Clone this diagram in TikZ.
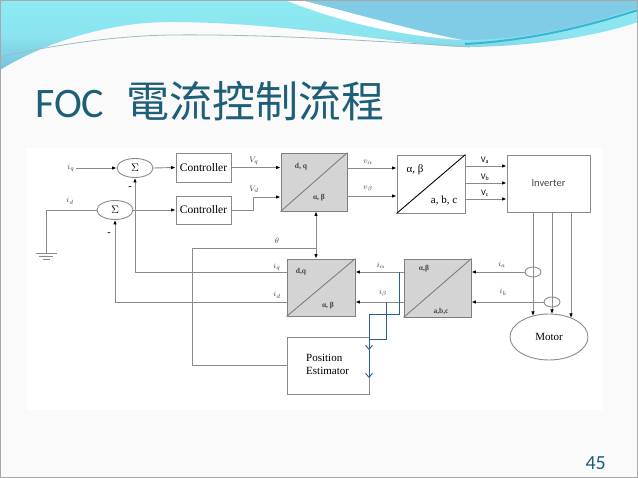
\documentclass[tikz,border=0pt]{standalone}
\usepackage{fontspec}
\setmainfont{Liberation Serif}
\newfontfamily\calfont{Carlito}
\newfontfamily\cjkfont{Noto Sans CJK TC}
\usetikzlibrary{arrows.meta,shapes.geometric,calc}
\definecolor{slidebg}{HTML}{FAFAFA}
\definecolor{framegray}{HTML}{A8A8A8}
\definecolor{titlec}{HTML}{1D5E78}
\definecolor{cyanA}{HTML}{8EEAF3}
\definecolor{cyanB}{HTML}{78C2DD}
\definecolor{skyB}{HTML}{80CCE6}
\definecolor{darkcy}{HTML}{3AB5D5}
\definecolor{thinln}{HTML}{9DBBC4}
\definecolor{lgray}{HTML}{8A8A8A}
\definecolor{gfill}{HTML}{D4D4D4}
\definecolor{bgray}{HTML}{7F7F7F}
\definecolor{labgray}{HTML}{444444}
\definecolor{blueln}{HTML}{2A5C9A}
\begin{document}
\begin{tikzpicture}[x=1pt,y=-1pt,
  line/.style={draw=lgray,line width=0.9pt},
  arr/.style={line,-{Latex[length=4.5pt,width=3.6pt,black]}},
  sig/.style={ellipse,draw=lgray,line width=0.9pt,inner sep=0pt,minimum width=36pt,minimum height=19pt,font=\fontsize{11}{12}\selectfont},
  box/.style={rectangle,draw=lgray,line width=0.9pt,inner sep=0pt,font=\fontsize{11.5}{13}\selectfont},
  gblock/.style={rectangle,draw=bgray,fill=gfill,line width=0.9pt,inner sep=0pt},
  wblock/.style={rectangle,draw=lgray,fill=white,line width=0.9pt,inner sep=0pt},
  blab/.style={inner sep=0pt,text=labgray,font=\bfseries\fontsize{7.5}{9}\selectfont},
  wlab/.style={inner sep=0pt,font=\fontsize{11}{13}\selectfont},
  slab/.style={inner sep=1pt,text=labgray,font=\fontsize{8.5}{9}\selectfont},
  vlab/.style={inner sep=0pt,font=\calfont\fontsize{8.5}{9}\selectfont},
  bline/.style={draw=blueln,line width=0.9pt},
  barb/.style={bline,-{Straight Barb[length=4pt,width=7pt]}}
]
\useasboundingbox (0,0) rectangle (638,478);
\fill[slidebg] (0,0) rectangle (638,478);
% waves
\shade[top color=cyanA,bottom color=cyanB,middle color=cyanA!85!cyanB]
  (0,0) -- (638,0) -- (638,22) .. controls (600,35) and (540,46) .. (470,47)
  .. controls (450,47) and (430,45) .. (390,40)
  .. controls (330,33) and (250,22) .. (170,22)
  .. controls (110,22) and (45,42) .. (0,70) -- cycle;
\fill[skyB] (300,0) .. controls (350,12) and (410,30) .. (462,40)
  .. controls (540,40) and (600,20) .. (638,8) -- (638,0) -- cycle;
\fill[white] (285,0) -- (300,0) .. controls (350,12) and (410,30) .. (462,40)
  .. controls (400,36) and (340,22) .. (285,0) -- cycle;
\draw[darkcy,line width=2pt] (465,44) .. controls (540,40) and (600,22) .. (638,10);
\draw[thinln,line width=0.8pt] (0,57) .. controls (50,46) and (110,36) .. (170,35)
  .. controls (260,34) and (360,40) .. (470,47);
\draw[framegray,line width=1pt] (0.5,0.5) rectangle (637.5,477.5);
% title
\node[anchor=base west,text=titlec,inner sep=0pt] (title) at (35,118)
  {{\calfont\fontsize{42}{50}\selectfont FOC}\hspace{22pt}{\cjkfont\fontsize{43}{50}\selectfont 電流控制流程}};
\node[anchor=base east,text=titlec,inner sep=0pt] (pg) at (606,470)
  {\calfont\fontsize{20}{24}\selectfont 45};
% panel
\fill[white] (27,148) rectangle (603,410);
% nodes
\node[sig] (S1) at (135,168) {$\Sigma$};
\node[sig] (S2) at (115,210) {$\Sigma$};
\node[box,minimum width=55pt,minimum height=29pt] (C1) at (203.5,167.5) {Controller};
\node[box,minimum width=55pt,minimum height=28pt] (C2) at (203.5,210) {Controller};
\node[gblock,minimum width=66pt,minimum height=58pt] (B1) at (314,182) {};
\node[gblock,minimum width=68pt,minimum height=57pt] (B2) at (321,287.5) {};
\node[wblock,minimum width=68pt,minimum height=58pt] (B3) at (431,184) {};
\node[box,minimum width=83pt,minimum height=57pt,text=labgray,font=\calfont\fontsize{10.5}{12}\selectfont] (INV) at (548.5,183.5) {Inverter};
\node[gblock,minimum width=67pt,minimum height=58pt] (B4) at (437.5,288) {};
\node[sig,minimum width=78pt,minimum height=46pt,font=\fontsize{11}{13}\selectfont] (M) at (549,337) {Motor};
\node[box,minimum width=82pt,minimum height=57pt] (PE) at (328,365.5) {};
\node[anchor=west,align=left,inner sep=0pt,font=\fontsize{11}{13}\selectfont] (PEt) at (306,364.5) {Position\\Estimator};
% diagonals
\draw[draw=bgray,line width=0.9pt] (B1.south west) -- (B1.north east);
\draw[draw=bgray,line width=0.9pt] (B2.south west) -- (B2.north east);
\draw[draw=bgray,line width=0.9pt] (B4.south west) -- (B4.north east);
\draw[black,line width=0.9pt] (B3.south west) -- (B3.north east);
% block labels
\node[blab] (B1a) at (301,167) {d, q};
\node[blab] (B1b) at (319,198) {α, β};
\node[blab] (B2a) at (301,272) {d,q};
\node[blab] (B2b) at (328,306) {α, β};
\node[blab] (B4a) at (424,269) {α,β};
\node[blab] (B4b) at (441,311) {a,b,c};
\node[wlab] (B3a) at (415,170) {α, β};
\node[wlab] (B3b) at (444,201) {a, b, c};
% inputs
\node[slab] (iqL) at (71,168) {$i_q$};
\draw[arr] (iqL.east) -- (S1.west);
\node[slab] (idL) at (70,201) {$i_d$};
\coordinate (G) at (46,253);
\draw[line] (S2.west) -- (S2.west -| G) -- (G);
\draw[line] ($(G)+(-10.5,0)$) -- ($(G)+(10.5,0)$);
\draw[line] ($(G)+(-7,3)$) -- ($(G)+(7,3)$);
\draw[line] ($(G)+(-3.5,6)$) -- ($(G)+(3.5,6)$);
\node[inner sep=0pt,font=\bfseries\fontsize{10}{10}\selectfont] (mn1) at (130,188) {-};
\node[inner sep=0pt,font=\bfseries\fontsize{10}{10}\selectfont] (mn2) at (109,234) {-};
% forward path
\draw[arr] (S1.east) -- (C1.west);
\draw[arr] (S2.east) -- (C2.west);
\draw[arr] (C1.east) -- (C1.east -| B1.west);
\node[slab] (VqL) at (254,161) {$V_q$};
\coordinate (vdk) at (253,197);
\draw[arr] (C2.east) -| (vdk) -- (vdk -| B1.west);
\node[slab] (VdL) at (254,189) {$V_d$};
\draw[arr] ([yshift=14pt]B1.east) -- ([yshift=14pt]B1.east -| B3.west);
\draw[arr] ([yshift=-14pt]B1.east) -- ([yshift=-14pt]B1.east -| B3.west);
\node[slab] (vaL) at (368,162) {$v_\alpha$};
\node[slab] (vbL) at (368,189) {$v_\beta$};
\draw[arr] ([yshift=18pt]B3.east) -- ([yshift=18pt]B3.east -| INV.west);
\draw[arr] ([yshift=1pt]B3.east) -- ([yshift=1pt]B3.east -| INV.west);
\draw[arr] ([yshift=-15pt]B3.east) -- ([yshift=-15pt]B3.east -| INV.west);
\node[vlab] (VaL) at (485,160) {V\textsubscript{a}};
\node[vlab] (VbL) at (485,177) {V\textsubscript{b}};
\node[vlab] (VcL) at (485,193) {V\textsubscript{c}};
% inverter to motor
\coordinate (mA) at (533,316);
\coordinate (mB) at (552,314);
\coordinate (mC) at (571,318);
\draw[arr] (INV.south -| mA) -- (mA);
\draw[arr] (INV.south -| mB) -- (mB);
\draw[arr] (INV.south -| mC) -- (mC);
\node[sig,minimum width=16pt,minimum height=10pt] (SA) at (533,272) {};
\node[sig,minimum width=16pt,minimum height=10pt] (SB) at (552,302) {};
% feedback currents
\draw[arr] (SA.west) -- (SA.west -| B4.east);
\draw[arr] (SB.west) -- (SB.west -| B4.east);
\node[slab] (iaL) at (502,264) {$i_a$};
\node[slab] (ibL) at (503,292) {$i_b$};
\draw[arr] (SA.west -| B4.west) -- (SA.west -| B2.east);
\draw[arr] (SB.west -| B4.west) -- (SB.west -| B2.east);
\node[slab] (ialL) at (381,265) {$i_\alpha$};
\node[slab] (ibeL) at (383,293) {$i_\beta$};
\draw[arr] (SA.west -| B2.west) -| (S1.south);
\draw[arr] (SB.west -| B2.west) -| (S2.south);
\node[slab] (iq2L) at (277,267) {$i_q$};
\node[slab] (id2L) at (277,295) {$i_d$};
% theta
\coordinate (thK) at (192,248);
\coordinate (thJ) at (316,248);
\draw[line] (PE.west) -| (thK) -- (thJ);
\draw[line,{Latex[length=4.5pt,width=3.6pt,black]}-{Latex[length=4.5pt,width=3.6pt,black]}] (B1.south -| thJ) -- (B2.north -| thJ);
\node[slab] (thL) at (277,241) {$\theta$};
% blue lines
\coordinate (ba) at (399,272);
\coordinate (bb) at (399,314);
\coordinate (bc) at (369,314);
\coordinate (bd) at (369,350);
\coordinate (be) at (369,378);
\coordinate (bf) at (386,302);
\coordinate (bg) at (386,339);
\coordinate (bh) at (369,339);
\draw[barb] (ba) -- (bb) -- (bc) -- (bd);
\draw[barb] (bd) -- (be);
\draw[bline] (bf) -- (bg) -- (bh);
\end{tikzpicture}
\end{document}
